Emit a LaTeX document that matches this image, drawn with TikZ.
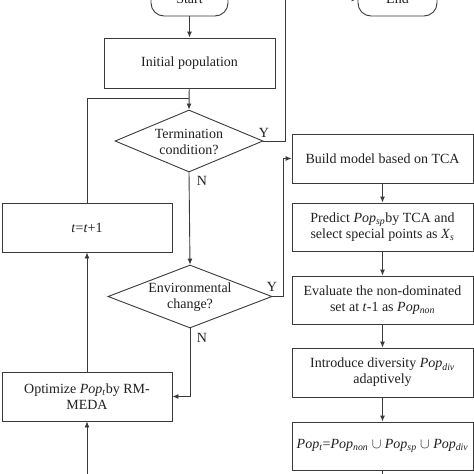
\documentclass[tikz,border=0pt]{standalone}
\usepackage{fontspec}
\setmainfont{Liberation Serif}
\usetikzlibrary{shapes.geometric,arrows.meta}
\definecolor{ln}{HTML}{3A3A3A}
\definecolor{txt}{HTML}{202020}
\newcommand{\Pop}[1]{\textit{Pop}\textsubscript{\textit{#1}}}
\begin{document}
\begin{tikzpicture}[x=1pt,y=-1pt,
  every node/.style={font=\fontsize{14}{16}\selectfont, text=txt},
  box/.style={draw=ln, line width=0.9pt, rectangle, inner sep=0pt, align=center},
  term/.style={draw=ln, line width=0.9pt, rectangle, rounded corners=13pt, inner sep=0pt, minimum width=77pt, minimum height=34pt},
  dia/.style={draw=ln, line width=0.9pt, diamond, inner sep=0pt},
  lbl/.style={inner sep=0pt, align=center},
  conn/.style={draw=ln, line width=0.9pt},
  arr/.style={conn, -{Latex[length=6pt,width=5pt]}}
]
\clip (0,0) rectangle (474,474);
\useasboundingbox (0,0) rectangle (474,474);
\fill[white] (0,0) rectangle (474,474);

% terminals
\node[term] (start) at (189.5,-1) {Start};
\node[term, minimum width=79pt] (end) at (397.5,-1) {End};

% left column
\node[box, minimum width=171pt, minimum height=50pt] (init) at (189.5,63) {Initial population};
\node[dia, minimum width=148pt, minimum height=62pt] (term) at (189,141) {};
\node[lbl] (termtxt) at (189,141.5) {Termination\\condition?};
\node[dia, minimum width=164pt, minimum height=63pt] (env) at (190,296.5) {};
\node[lbl] (envtxt) at (190,297) {Environmental\\change?};
\node[box, minimum width=170pt, minimum height=49pt] (tinc) at (87,227.5) {\textit{t}=\textit{t}+1};
\node[box, minimum width=170pt, minimum height=49pt] (opt) at (87,396.5) {Optimize \Pop{t}by RM-\\MEDA};

% right column
\node[box, minimum width=181pt, minimum height=49pt] (build) at (382.5,158.5) {Build model based on TCA};
\node[box, minimum width=181pt, minimum height=48pt] (pred) at (382.5,227) {Predict \Pop{sp}by TCA and\\select special points as \textit{X}\textsubscript{\textit{s}}};
\node[box, minimum width=181pt, minimum height=48pt] (eval) at (382.5,300) {Evaluate the non-dominated\\set at \textit{t}-1 as \Pop{non}};
\node[box, minimum width=181pt, minimum height=49pt] (intro) at (382.5,372.5) {Introduce diversity \Pop{div}\\adaptively};
\node[box, minimum width=181pt, minimum height=48pt] (popt) at (382.5,446) {\Pop{t}=\Pop{non} $\cup$ \Pop{sp} $\cup$ \Pop{div}};

% labels
\node[lbl] (y1) at (264,133) {Y};
\node[lbl] (n1) at (202,181) {N};
\node[lbl] (y2) at (272,287) {Y};
\node[lbl] (n2) at (202,338) {N};

% helper coordinates
\coordinate (join) at (189,98);
\coordinate (ty) at (285,141);
\coordinate (ey) at (283,296.5);
\coordinate (en) at (190,396.5);
\coordinate (bot) at (87,480);
\coordinate (pbot) at (382.5,480);

% connectors
\draw[arr] (start) -- (init);
\draw[arr] (init) -- (term.north);
\draw[conn] (tinc.north) |- (join);
\draw[arr] (term.east) -- (ty) |- (end.west);
\draw[arr] (term.south) -- (env.north);
\draw[arr] (env.east) -- (ey) |- (build.west);
\draw[arr] (env.south) |- (opt.east);
\draw[arr] (opt) -- (tinc);
\draw[arr] (bot) -- (opt.south);
\draw[arr] (build) -- (pred);
\draw[arr] (pred) -- (eval);
\draw[arr] (eval) -- (intro);
\draw[arr] (intro) -- (popt);
\draw[conn] (popt.south) -- (pbot);
\end{tikzpicture}
\end{document}
